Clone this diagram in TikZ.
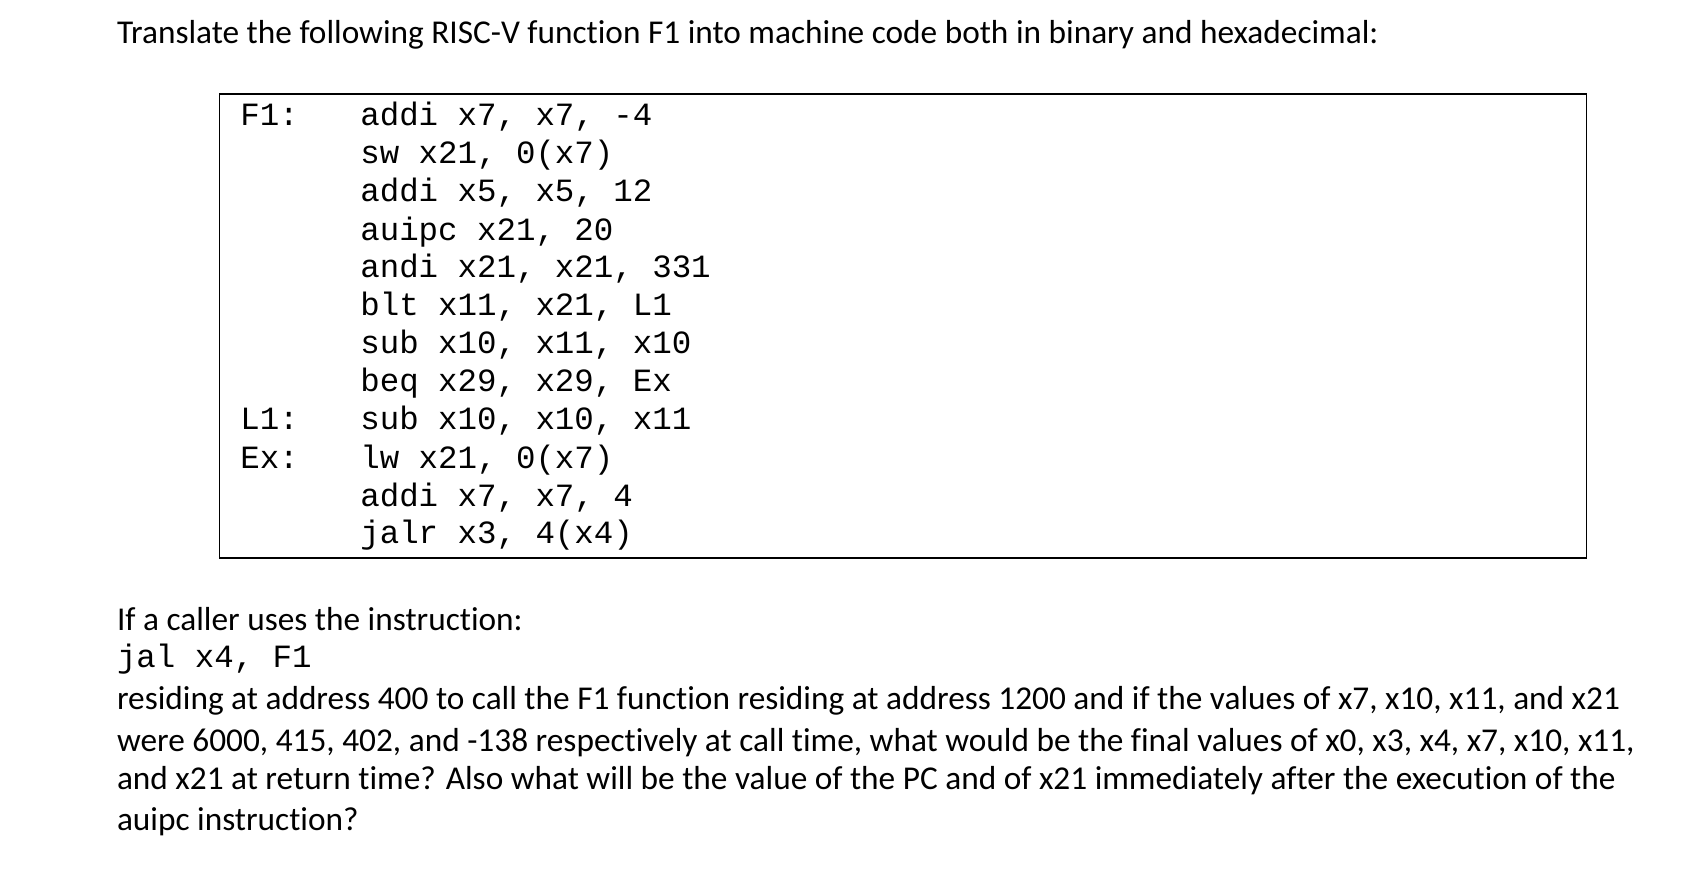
\documentclass[tikz,border=0pt]{standalone}
\usepackage{fontspec}
\setmainfont{Carlito}[Ligatures=NoCommon]
\setmonofont{Liberation Mono}
\begin{document}
\begin{tikzpicture}[x=1pt,y=-1pt,
  body/.style={anchor=base west,inner sep=0pt,font=\fontsize{30.8}{36}\selectfont},
  code/.style={anchor=base west,inner sep=0pt,font=\fontsize{30}{36}\ttfamily}]
\useasboundingbox (0,0) rectangle (1560,803);
\node[body] (t) at (108,40) {Translate the following RISC-V function F1 into machine code both in binary and hexadecimal:};
\draw[line width=1.5pt] (203,87) rectangle (1467,516);
\node[code] (lf) at (222,116) {F1:};
\node[code] (ll) at (222,397) {L1:};
\node[code] (le) at (222,433) {Ex:};
\node[code] (c1) at (333,116) {addi x7, x7, -4};
\node[code] (c2) at (333,151) {sw x21, 0(x7)};
\node[code] (c3) at (333,186) {addi x5, x5, 12};
\node[code] (c4) at (333,222) {auipc x21, 20};
\node[code] (c5) at (333,257) {andi x21, x21, 331};
\node[code] (c6) at (333,292) {blt x11, x21, L1};
\node[code] (c7) at (333,327) {sub x10, x11, x10};
\node[code] (c8) at (333,362) {beq x29, x29, Ex};
\node[code] (c9) at (333,397) {sub x10, x10, x11};
\node[code] (c10) at (333,433) {lw x21, 0(x7)};
\node[code] (c11) at (333,468) {addi x7, x7, 4};
\node[code] (c12) at (333,503) {jalr x3, 4(x4)};
\node[body] (p1) at (108,583) {If a caller uses the instruction:};
\node[code] (p2) at (108,617) {jal x4, F1};
\node[body] (p3) at (108,656) {residing at address 400 to call the F1 function residing at address 1200 and if the values of x7, x10, x11, and x21};
\node[body] (p4) at (108,695) {were 6000, 415, 402, and -138 respectively at call time, what would be the final values of x0, x3, x4, x7, x10, x11,};
\node[body] (p5) at (108,730) {and x21 at return time? Also what will be the value of the PC and of x21 immediately after the execution of the};
\node[body] (p6) at (108,768) {auipc instruction?};
\end{tikzpicture}
\end{document}
